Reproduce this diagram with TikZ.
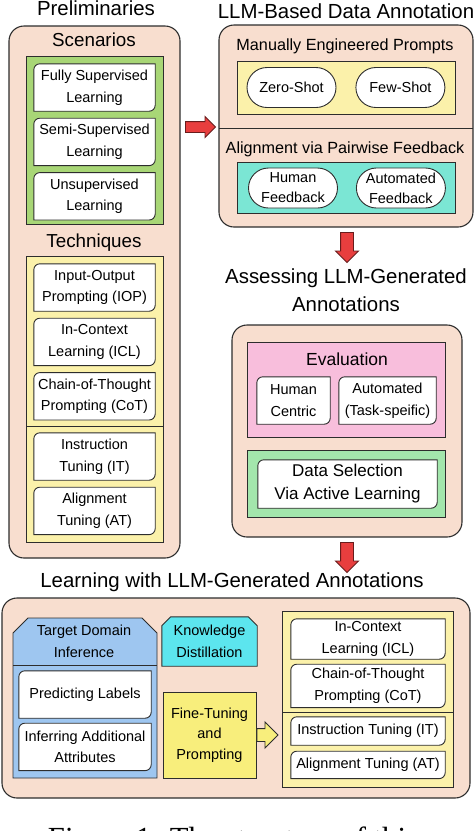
\documentclass[tikz,border=0pt]{standalone}
\usepackage{fontspec}
\setmainfont{Liberation Sans}
\newfontfamily\captionserif{Liberation Serif}
\usetikzlibrary{positioning, shapes.misc, shapes.arrows, backgrounds}

\definecolor{peach}{RGB}{248,222,207}
\definecolor{leaf}{RGB}{168,214,118}
\definecolor{butter}{RGB}{251,241,170}
\definecolor{lemon}{RGB}{248,238,124}
\definecolor{mint}{RGB}{123,230,212}
\definecolor{aqua}{RGB}{92,229,238}
\definecolor{rose}{RGB}{248,190,220}
\definecolor{sage}{RGB}{163,230,172}
\definecolor{sky}{RGB}{158,198,240}
\definecolor{brick}{RGB}{232,62,62}
\definecolor{ink}{RGB}{45,45,45}

\begin{document}
\begin{tikzpicture}[
    x=1pt, y=1pt,
    node distance = 7pt,
    head/.style={
        font=\fontsize{20.4}{28}\selectfont, align=center, inner sep=0pt
    },
    sub/.style={
        font=\fontsize{18.8}{24}\selectfont, inner sep=0pt, anchor=base
    },
    subs/.style={
        font=\fontsize{16.2}{20}\selectfont, inner sep=0pt, anchor=base
    },
    wbox/.style={
        font=\fontsize{14.5}{21.5}\selectfont, align=center, inner sep=0pt,
        minimum width=121pt, minimum height=47pt
    },
    oval/.style={
        draw=ink, fill=white, line width=.9pt, rounded rectangle, align=center,
        font=\fontsize{14.5}{20}\selectfont, inner sep=0pt,
        minimum width=89pt, minimum height=40pt
    },
    group/.style={
        draw=ink, fill=peach, line width=1.1pt, rounded corners=15pt
    },
    panel/.style={
        draw=ink, line width=.9pt
    },
    wframe/.style={
        draw=ink, fill=white, line width=.9pt
    },
    blockarrow/.style={
        single arrow, draw=brick!45!black, fill=brick, line width=.9pt,
        inner xsep=0pt, inner ysep=5pt, single arrow head extend=5pt,
        minimum height=30pt, minimum width=20pt, anchor=tail
    }
]

    \useasboundingbox (0,0) rectangle (474,-831);

    % Preliminaries
    \node[head, anchor=base] (prelim) at (96,-15.5) {Preliminaries};
    \node[sub] (scen) at (94,-46.7) {Scenarios};
    \node[wbox] (fsl) at (94.5,-87.5) {Fully Supervised\\Learning};
    \node[wbox, below=of fsl] (ssl) {Semi-Supervised\\Learning};
    \node[wbox, below=of ssl] (usl) {Unsupervised\\Learning};
    \node[sub] (tech) at (94,-247) {Techniques};
    \node[wbox] (ioprompt) at (94.5,-287.5) {Input-Output\\Prompting (IOP)};
    \node[wbox, below=of ioprompt] (icltech) {In-Context\\Learning (ICL)};
    \node[wbox, below=of icltech] (cottech) {Chain-of-Thought\\Prompting (CoT)};
    \node[wbox] (ittech) at (94.5,-456.5) {Instruction\\Tuning (IT)};
    \node[wbox, below=of ittech] (attech) {Alignment\\Tuning (AT)};

    % LLM-based annotation
    \node[head, anchor=base] (annot) at (346,-18.5) {LLM-Based Data Annotation};
    \node[subs] (manual) at (345,-50) {Manually Engineered Prompts};
    \node[oval] (zero) at (291.5,-87.5) {Zero-Shot};
    \node[oval, right=19pt of zero] (few) {Few-Shot};
    \node[subs] (pairwise) at (345,-153) {Alignment via Pairwise Feedback};
    \node[oval] (human) at (293,-188) {Human\\Feedback};
    \node[oval, right=18pt of human] (auto) {Automated\\Feedback};

    % assessing
    \node[head] (assess) at (346,-290.2) {Assessing LLM-Generated\\Annotations};
    \node[font=\fontsize{17.5}{21}\selectfont, inner sep=0pt, anchor=base] (evaltitle) at (347,-365) {Evaluation};
    \node[wbox, minimum width=73pt] (hcentric) at (293.5,-400.5) {Human\\Centric};
    \node[wbox, minimum width=97pt] (autotask) at (387.5,-400.5) {Automated\\(Task-speific)};
    \node[wbox, minimum width=179pt, minimum height=48pt, font=\fontsize{17}{23}\selectfont] (dsel) at (347.5,-484) {Data Selection\\Via Active Learning};

    % learning
    \node[head, anchor=base] (learn) at (232,-587) {Learning with LLM-Generated Annotations};
    \node[wbox, minimum width=144pt, minimum height=40pt] (tdi) at (84,-641.5) {Target Domain\\Inference};
    \node[wbox, minimum width=132pt] (plab) at (85,-694.5) {Predicting Labels};
    \node[wbox, minimum width=132pt, below=5pt of plab] (iaa) {Inferring Additional\\Attributes};
    \node[wbox, minimum width=95pt, minimum height=49pt] (kd) at (209.5,-641.5) {Knowledge\\Distillation};
    \node[panel, fill=lemon, wbox, font=\fontsize{14.5}{20.5}\selectfont, minimum width=93pt, minimum height=86pt] (ftp) at (209.5,-735) {Fine-Tuning\\and\\Prompting};
    \node[wbox, minimum width=154pt, minimum height=40pt] (iclb) at (368,-639) {In-Context\\Learning (ICL)};
    \node[wbox, minimum width=154pt, minimum height=43pt, below=5pt of iclb] (cotb) {Chain-of-Thought\\Prompting (CoT)};
    \node[wbox, minimum width=154pt, minimum height=28pt] (itb) at (368,-731) {Instruction Tuning (IT)};
    \node[wbox, minimum width=154pt, minimum height=27pt, below=6pt of itb] (atb) {Alignment Tuning (AT)};

    % block arrows
    \node[blockarrow] (toannot) at (185,-127) {};
    \node[blockarrow, rotate=-90, inner ysep=6pt, minimum width=22pt] (toassess) at (347,-232) {};
    \node[blockarrow, rotate=-90, inner ysep=6pt, minimum width=22pt] (tolearn) at (347,-542) {};
    \node[blockarrow, fill=lemon, draw=ink, inner ysep=6pt, single arrow head extend=6.5pt,
        minimum width=25pt, minimum height=21pt] (ftparrow) at (ftp.east) {};

    \node[font=\captionserif\fontsize{30.7}{36}\selectfont, inner sep=0pt, anchor=base] (caption) at (233,-848) {Figure 1: The structure of this};

    \begin{scope}[on background layer]
        \draw[group] (9,-26) rectangle (180,-558);
        \draw[group] (219,-25) rectangle (473,-227);
        \draw[group] (232,-325) rectangle (462,-537);
        \draw[group] (2,-598) rectangle (470,-798);

        \draw[panel, fill=leaf] (26,-56) rectangle (163,-224);
        \draw[panel, fill=butter] (26,-256) rectangle (163,-542);
        \draw[panel] (26,-426) -- (163,-426);

        \draw[panel, fill=butter] (237,-61) rectangle (455,-114);
        \draw[panel] (219,-128) -- (473,-128);
        \draw[panel, fill=mint] (237,-162) rectangle (455,-213);

        \draw[panel, fill=rose] (247,-342) rectangle (445,-437);
        \draw[panel, fill=sage] (247,-450) rectangle (445,-517);

        \draw[panel, fill=sky] (13,-778) -- (13,-633) -- (28,-618) -- (142,-618) -- (157,-633) -- (157,-778) -- cycle;
        \draw[panel] (13,-665) -- (157,-665);
        \draw[panel, fill=aqua] (kd.south west) -- ([yshift=-9pt]kd.north west) -- ([xshift=9pt]kd.north west)
            -- ([xshift=-9pt]kd.north east) -- ([yshift=-9pt]kd.north east) -- (kd.south east) -- cycle;
        \draw[panel, fill=butter] (282,-611) rectangle (453,-787);
        \draw[panel] (282,-712) -- (453,-712);

        \foreach \n in {fsl,ssl,usl,ioprompt,icltech,cottech,ittech,attech,hcentric,autotask,dsel,plab,iaa,iclb,cotb,itb,atb}
            \draw[wframe] (\n.north east) -- ([yshift=6pt]\n.south east) arc[start angle=0, end angle=-90, radius=6pt]
                -- (\n.south west) -- ([yshift=-6pt]\n.north west) arc[start angle=180, end angle=90, radius=6pt] -- cycle;
    \end{scope}

\end{tikzpicture}
\end{document}
